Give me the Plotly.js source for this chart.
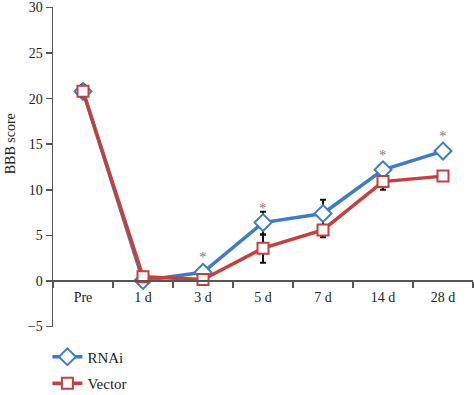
<!DOCTYPE html>
<html>
<head>
<meta charset="utf-8">
<script src="https://cdn.plot.ly/plotly-3.0.1.min.js"></script>
<style>html,body{margin:0;padding:0;background:#fff;}#chart{width:474px;height:395px;}</style>
</head>
<body>
<div id="chart"></div>
<script>
const categories = ["Pre", "1 d", "3 d", "5 d", "7 d", "14 d", "28 d"];
const rnaiValues = [20.8, 0.05, 0.95, 6.4, 7.4, 12.2, 14.25];
const rnaiErrPlus = [0.6, 0, 0, 1.2, 1.5, 0.3, 0];
const rnaiErrMinus = [0.6, 0, 0, 1.3, 1.5, 0.3, 0];
const vectorValues = [20.8, 0.45, 0.15, 3.6, 5.6, 10.9, 11.5];
const vectorErrPlus = [0.6, 0, 0, 1.5, 0.3, 0.3, 0];
const vectorErrMinus = [0.6, 0, 0, 1.6, 0.8, 0.9, 0];
const significant = [false, false, true, true, false, true, true];
const yRange = [-5, 30];
const yStep = 5;

const font = "Liberation Serif, Times New Roman, serif";
const blue = "#3f7cc4";
const red = "#c4403f";

const traces = [
  {
    x: categories, y: rnaiValues, name: "RNAi", type: "scatter", mode: "lines+markers",
    legendgroup: "a",
    line: {color: blue, width: 3.5},
    marker: {symbol: "diamond", size: 13, color: "#ffffff", line: {color: blue, width: 2}},
    error_y: {type: "data", symmetric: false, array: rnaiErrPlus, arrayminus: rnaiErrMinus, color: "#111", thickness: 2, width: 3}
  },
  {
    x: categories, y: vectorValues, name: "Vector", type: "scatter", mode: "lines+markers",
    legendgroup: "b",
    line: {color: red, width: 3.5},
    marker: {symbol: "square", size: 11, color: "#ffffff", line: {color: red, width: 2}},
    error_y: {type: "data", symmetric: false, array: vectorErrPlus, arrayminus: vectorErrMinus, color: "#111", thickness: 2, width: 3}
  }
];

const annotations = [];
categories.forEach((c, i) => {
  if (significant[i]) {
    annotations.push({
      x: c, y: rnaiValues[i], xref: "x", yref: "y", text: "*", showarrow: false,
      yshift: 15, font: {family: font, size: 15, color: "#808080"}
    });
  }
});
annotations.push({
  xref: "paper", yref: "paper", x: -0.125, y: 0.571, text: "BBB score", textangle: -90,
  showarrow: false, font: {family: font, size: 14, color: "#222"}
});

const layout = {
  width: 474, height: 395,
  margin: {l: 53, r: 1, t: 7, b: 68, autoexpand: false},
  paper_bgcolor: "#fff", plot_bgcolor: "#fff",
  showlegend: true,
  legend: {
    xref: "container", yref: "container",
    x: 0.1, y: 0.138, xanchor: "left", yanchor: "top",
    traceorder: "grouped", tracegroupgap: 4,
    font: {family: font, size: 15, color: "#222"},
    bgcolor: "rgba(0,0,0,0)"
  },
  xaxis: {
    type: "category", range: [-0.5, 6.5],
    anchor: "free", position: (0 - yRange[0]) / (yRange[1] - yRange[0]),
    showline: true, linecolor: "#555", linewidth: 2,
    ticks: "outside", tickson: "boundaries", ticklen: 6, tickcolor: "#555", tickwidth: 1.5,
    ticklabelstandoff: 3,
    showgrid: false, zeroline: false,
    tickfont: {family: font, size: 14, color: "#222"}
  },
  yaxis: {
    range: [yRange[0] - 0.05, yRange[1] + 0.05], tickmode: "linear", tick0: 0, dtick: yStep,
    showline: true, linecolor: "#555", linewidth: 1.5,
    ticks: "outside", ticklen: 6, tickcolor: "#555", tickwidth: 1.5,
    showgrid: false, zeroline: false,
    tickfont: {family: font, size: 14, color: "#222"}
  },
  annotations: annotations
};

Plotly.newPlot("chart", traces, layout, {displayModeBar: false, staticPlot: true});
</script>
</body>
</html>
